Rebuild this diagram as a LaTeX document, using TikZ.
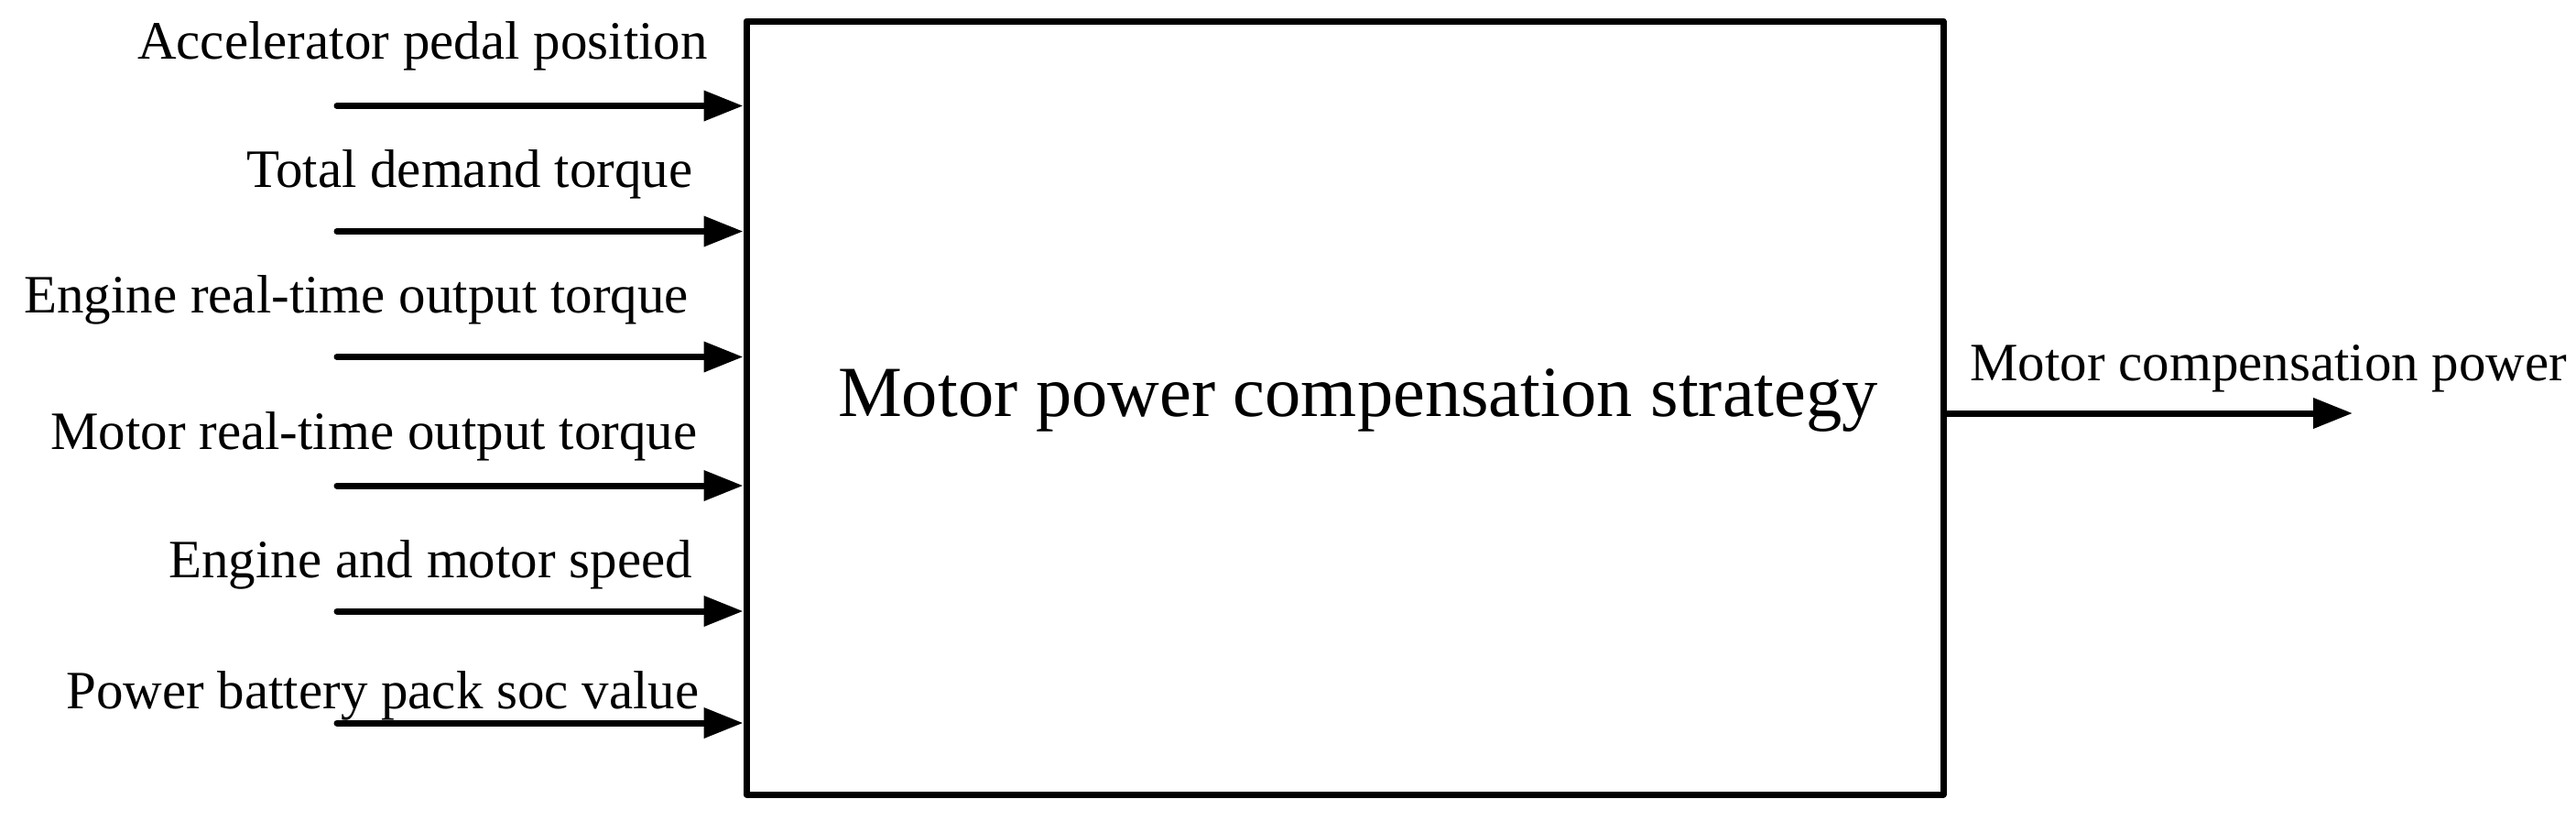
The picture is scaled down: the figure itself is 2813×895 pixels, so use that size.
\documentclass[tikz,border=0pt]{standalone}
\usepackage{fontspec}
\setmainfont{Liberation Serif}
\usetikzlibrary{arrows.meta}
\begin{document}
\begin{tikzpicture}[x=1pt,y=-1pt,
  lbl/.style={anchor=base west, inner sep=0pt, font=\fontsize{59}{71}\selectfont},
  ttl/.style={anchor=base west, inner sep=0pt, font=\fontsize{78.5}{94}\selectfont},
  sig/.style={line width=7pt, line cap=round, -{Triangle[length=43pt,width=32pt]}},
  blk/.style={draw, line width=7pt, line join=round, minimum width=1307pt, minimum height=844pt, inner sep=0pt}]
\useasboundingbox (0,0) rectangle (2813,895);
\node[blk] (box) at (1468.5,445) {};
\node[ttl] (title) at (915,454) {Motor power compensation strategy};
% input labels
\node[lbl] (l1) at (150,64) {Accelerator pedal position};
\node[lbl] (l2) at (269,204) {Total demand torque};
\node[lbl] (l3) at (26,341) {Engine real-time output torque};
\node[lbl] (l4) at (55,490) {Motor real-time output torque};
\node[lbl] (l5) at (184,630) {Engine and motor speed};
\node[lbl] (l6) at (72,773) {Power battery pack soc value};
% input arrow starts
\coordinate (s1) at (368,115.5);
\coordinate (s2) at (368,252.5);
\coordinate (s3) at (368,389.5);
\coordinate (s4) at (368,530);
\coordinate (s5) at (368,667);
\coordinate (s6) at (368,789);
\foreach \i in {1,...,6}{
  \draw[sig] (s\i) -- (s\i -| box.west);
}
% output
\coordinate (ostart) at (box.east |- 0,451);
\coordinate (oend) at (2569,451);
\draw[sig] (ostart) -- (oend);
\node[lbl] (lout) at (2151,415) {Motor compensation power};
\end{tikzpicture}
\end{document}
